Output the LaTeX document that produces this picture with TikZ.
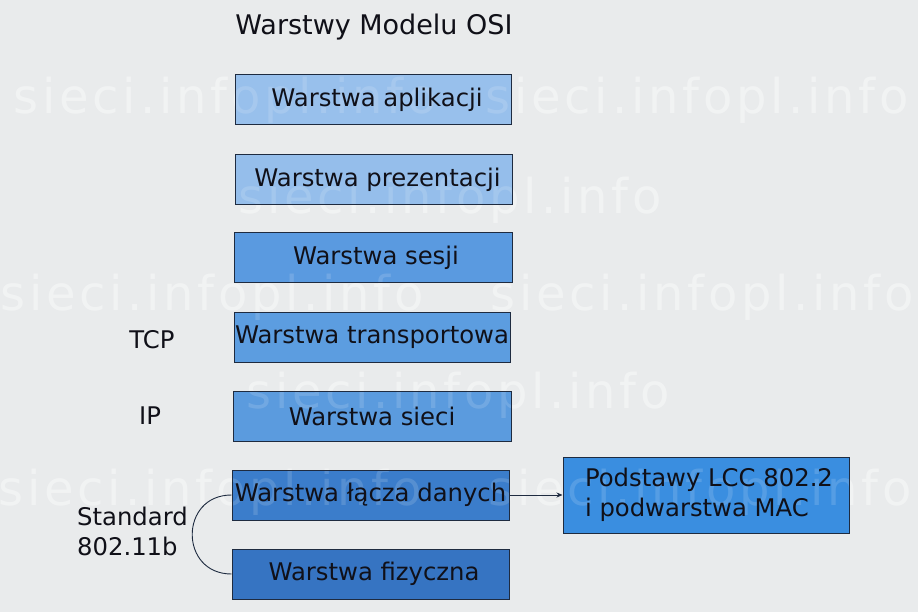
\documentclass[tikz,border=0pt]{standalone}
\usepackage{fontspec}
\setmainfont{DejaVu Sans}
\newfontfamily\wmfont[LetterSpace=8]{DejaVu Sans}
\usetikzlibrary{arrows.meta}
\pgfdeclarelayer{background}
\pgfsetlayers{background,main}
\definecolor{bg}{HTML}{E9EBEC}
\definecolor{edge}{HTML}{1E2B40}
\definecolor{txt}{HTML}{101018}
\definecolor{cA}{HTML}{98C0EC}
\definecolor{cB}{HTML}{95BEEB}
\definecolor{cC}{HTML}{5A9AE0}
\definecolor{cD}{HTML}{5C9DE0}
\definecolor{cE}{HTML}{5B9BDE}
\definecolor{cF}{HTML}{3B7DCB}
\definecolor{cG}{HTML}{3674C2}
\definecolor{cH}{HTML}{3A8EE0}
\begin{document}
\begin{tikzpicture}[x=1pt,y=-1pt,
  layer/.style={draw=edge, line width=1pt, minimum width=277pt, minimum height=50pt,
    inner sep=0pt, text=txt, fill opacity=0.65, draw opacity=1, text opacity=1,
    font=\fontsize{24.3}{30}\selectfont},
  lbl/.style={text=txt, inner sep=0pt, font=\fontsize{24.3}{30}\selectfont},
  wm/.style={text=white, text opacity=0.4, inner sep=0pt, font=\wmfont\fontsize{48}{56}\selectfont},
  link/.style={draw=edge, line width=0.9pt}]
\useasboundingbox (0,0) rectangle (918,612);
% title
\node[lbl, font=\fontsize{27}{32}\selectfont] (title) at (374,27) {Warstwy Modelu OSI};
% layers
\node[layer, fill=cA, minimum width=276pt] (apl) at (373,100) {\raisebox{-2pt}{\hspace*{8pt}Warstwa aplikacji}};
\node[layer, fill=cB] (prez) at (373.5,180) {\raisebox{-2pt}{\hspace*{8pt}Warstwa prezentacji}};
\node[layer, fill=cC, minimum width=278pt] (ses) at (373,258) {\raisebox{-2pt}{\hspace*{6pt}Warstwa sesji}};
\node[layer, fill=cD, minimum width=276pt] (tr) at (372,337) {\raisebox{-2pt}{Warstwa transportowa}};
\node[layer, fill=cE, minimum width=278pt] (sie) at (372,416) {\raisebox{-2pt}{Warstwa sieci}};
\node[layer, fill=cF] (lac) at (370.5,495) {\raisebox{-1pt}{Warstwa łącza danych}};
\node[layer, fill=cG] (fiz) at (370.5,574) {\raisebox{-2pt}{\hspace*{7pt}Warstwa fizyczna}};
\node[layer, fill=cH, minimum width=286pt, minimum height=76pt, align=left] (pod) at (706,495) {\hspace*{6pt}Podstawy LCC 802.2\\\hspace*{6pt}i podwarstwa MAC};
% side labels
\node[lbl] (tcp) at (152,340) {TCP};
\node[lbl] (ip) at (150,416) {IP};
\node[lbl, anchor=west, align=left] (std) at (77,531) {Standard\\802.11b};
% connectors
\draw[link, -{Stealth[length=6pt,width=5pt]}] (lac.east) -- (pod.west);
\draw[link] (lac.west) to[out=180,in=180,looseness=1.7] (fiz.west);
% background: page, solid box colours, then the faint watermark
\begin{pgfonlayer}{background}
\fill[bg] (0,0) rectangle (918,612);
\foreach \n/\c in {apl/cA, prez/cB, ses/cC, tr/cD, sie/cE, lac/cF, fiz/cG, pod/cH}
  \fill[\c] (\n.south west) rectangle (\n.north east);
\node[wm] (w1) at (225,100) {sieci.infopl.info};
\node[wm] (w2) at (697,100) {sieci.infopl.info};
\node[wm] (w3) at (450,200) {sieci.infopl.info};
\node[wm] (w4) at (212,297) {sieci.infopl.info};
\node[wm] (w5) at (702,297) {sieci.infopl.info};
\node[wm] (w6) at (458,395) {sieci.infopl.info};
\node[wm] (w7) at (210,492) {sieci.infopl.info};
\node[wm] (w8) at (700,492) {sieci.infopl.info};
\end{pgfonlayer}
\end{tikzpicture}
\end{document}
